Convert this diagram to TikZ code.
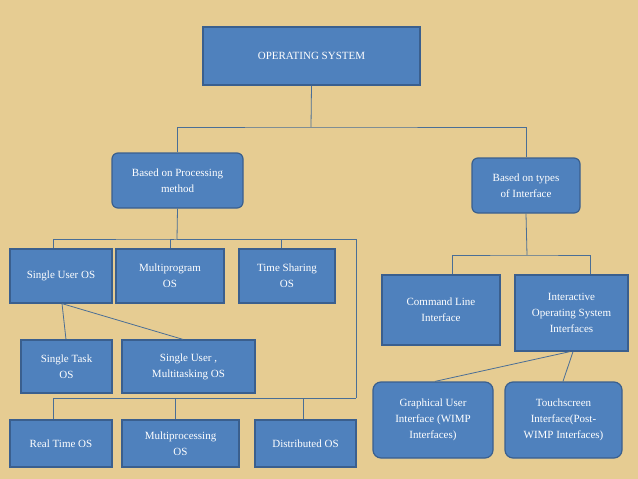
\documentclass[tikz,border=0pt]{standalone}
\usepackage{fontspec}
\setmainfont{Liberation Serif}
\begin{document}
\begin{tikzpicture}[x=1pt,y=-1pt,
  bx/.style={draw=boxedge,line width=1.2pt,fill=boxfill,text=white,align=center,font=\fontsize{11}{16}\selectfont,inner sep=0pt},
  ln/.style={draw=lineclr,line width=0.8pt}]
\definecolor{boxfill}{HTML}{4F81BD}
\definecolor{boxedge}{HTML}{3A5F8E}
\definecolor{lineclr}{HTML}{4A6E96}
\definecolor{bg}{HTML}{E6CC92}
\fill[bg] (0,0) rectangle (638,479);
\useasboundingbox (0,0) rectangle (638,479);
\newcommand{\bxn}[6][]{\node[bx,#1,minimum width={#4-#2},minimum height={#5-#3}] (#6) at ({(#2+#4)/2},{(#3+#5)/2})}
\bxn{203}{27}{420}{85}{os} {OPERATING SYSTEM};
\bxn[rounded corners=6pt]{112}{153}{243}{208}{proc} {Based on Processing\\method};
\bxn[rounded corners=6pt]{472}{158}{580}{213}{types} {Based on types\\of Interface};
\bxn{10}{249}{112}{303}{su} {Single User OS};
\bxn{116}{249}{224}{303}{mp} {Multiprogram\\OS};
\bxn{239}{249}{335}{303}{ts} {Time Sharing\\OS};
\bxn{21}{340}{112}{393}{st} {Single Task\\OS};
\bxn{122}{340}{255}{393}{sum} {Single User ,\\Multitasking OS};
\bxn{10}{420}{112}{467}{rt} {Real Time OS};
\bxn{122}{420}{239}{467}{mpr} {Multiprocessing\\OS};
\bxn{255}{420}{356}{467}{dos} {Distributed OS};
\bxn{382}{275}{500}{345}{cli} {Command Line\\Interface};
\bxn{515}{275}{628}{351}{ios} {Interactive\\Operating System\\Interfaces};
\bxn[rounded corners=8pt]{373}{382}{493}{458}{gui} {Graphical User\\Interface (WIMP\\Interfaces)};
\bxn[rounded corners=8pt]{505}{382}{622}{458}{tch} {Touchscreen\\Interface(Post-\\WIMP Interfaces)};
\coordinate (j1) at (311,127);
\coordinate (j2) at (177,239);
\coordinate (j3) at (356,398);
\coordinate (j4) at (527,255);
\draw[ln] (os.south) -- (j1);
\draw[ln] (proc.north) |- (j1) -| (types.north);
\draw[ln] (proc.south) -- (j2);
\draw[ln] (su.north-|53,0) |- (j2) -| (mp.north-|170,0);
\draw[ln] (j2) -| (j3);
\draw[ln] (ts.north-|281,0) -- (281,239);
\draw[ln] (rt.north-|53,0) |- (j3);
\draw[ln] (mpr.north-|175,0) -- (175,398);
\draw[ln] (dos.north-|303,0) -- (303,398);
\draw[ln] (su.south-|62,0) -- (st.north-|66,0);
\draw[ln] (su.south-|62,0) -- (sum.north-|183,0);
\draw[ln] (types.south) -- (j4);
\draw[ln] (cli.north-|452,0) |- (j4) -| (ios.north-|590,0);
\draw[ln] (ios.south-|570,0) -- (gui.north-|435,0);
\draw[ln] (ios.south-|573,0) -- (tch.north-|563,0);
\end{tikzpicture}
\end{document}
